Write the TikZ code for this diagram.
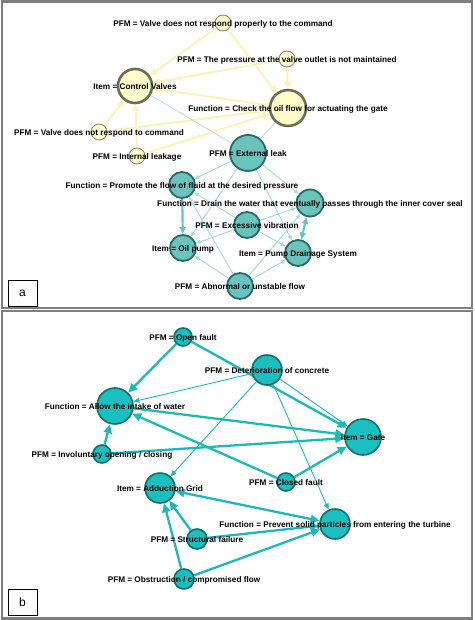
\documentclass[tikz,border=0pt]{standalone}
\usepackage{fontspec}
\setmainfont{Liberation Sans}
\usetikzlibrary{arrows.meta}
\pgfdeclarelayer{edges}
\pgfsetlayers{edges,main}
\definecolor{ylfill}{HTML}{FFFFCC}
\definecolor{yldraw}{HTML}{6E6E58}
\definecolor{yledge}{HTML}{F9F5B8}
\definecolor{tafill}{HTML}{6AC4BE}
\definecolor{tadraw}{HTML}{2C6A66}
\definecolor{taedge}{HTML}{A9DBD7}
\definecolor{bledge}{HTML}{BCDDE6}
\definecolor{tbfill}{HTML}{1BBFBF}
\definecolor{tbdraw}{HTML}{10706E}
\definecolor{tbedge}{HTML}{1CB9B9}
\definecolor{frame}{HTML}{7F7F7F}
\tikzset{
  ynode/.style={circle, draw=yldraw, fill=ylfill, inner sep=0pt, line width=2.6pt},
  ysmall/.style={circle, draw=yldraw!80, fill=ylfill, inner sep=0pt, line width=0.9pt, minimum size=16pt},
  anode/.style={circle, draw=tadraw, fill=tafill, inner sep=0pt, line width=1.8pt},
  bnode/.style={circle, draw=tbdraw, fill=tbfill, inner sep=0pt, line width=1.6pt},
  lab/.style={font=\bfseries\fontsize{8.2}{9}\selectfont, inner sep=0pt, yshift=-1pt},
  yedge/.style={draw=yledge, line width=2pt, >={Triangle[length=7pt,width=7pt]}, ->},
  bedge/.style={draw=bledge, line width=0.9pt},
  aedge/.style={draw=taedge, line width=1pt, >={Triangle[length=5pt,width=4pt]}, ->},
  athick/.style={draw=tafill, line width=2.2pt, >={Triangle[length=7pt,width=6pt]}, ->},
  cedge/.style={draw=tbedge, line width=0.9pt, >={Triangle[length=6pt,width=5pt]}, ->},
  cthick/.style={draw=tbedge, line width=2.3pt, >={Triangle[length=9pt,width=8pt]}, ->},
  panel/.style={draw=frame, line width=2.5pt},
  tagbox/.style={draw=black, line width=0.8pt, fill=white, minimum width=29pt, minimum height=26pt, font=\fontsize{12}{14}\selectfont}
}
\begin{document}
\begin{tikzpicture}[x=1pt, y=-1pt]
	\useasboundingbox (0,0) rectangle (474,620);
	% frames
	\draw[panel] (2,1.5) rectangle (472,308);
	\draw[panel] (2,311) rectangle (472,618.5);
	\node[tagbox] (taga) at (22.5,293) {a};
	\node[tagbox] (tagb) at (22.5,602) {b};

	% panel a: control valves
	\node[ysmall] (vp) at (223,23) {};
	\node[ysmall] (po) at (287,59) {};
	\node[ynode, minimum size=34pt] (cv) at (135,86) {};
	\node[ynode, minimum size=36pt] (cof) at (288,108) {};
	\node[ysmall] (vnr) at (99,132) {};
	\node[ysmall] (il) at (137,156) {};
	% panel a: oil pump
	\node[anode, minimum size=36pt] (el) at (248,153) {};
	\node[anode, minimum size=26pt] (pf) at (182,185) {};
	\node[anode, minimum size=27pt] (dw) at (310,203) {};
	\node[anode, minimum size=26pt] (ev) at (247,225) {};
	\node[anode, minimum size=26pt] (op) at (183,248) {};
	\node[anode, minimum size=26pt] (pds) at (298,253) {};
	\node[anode, minimum size=26pt] (auf) at (240,286) {};

	% panel b: gate
	\node[bnode, minimum size=18pt] (of) at (183,337) {};
	\node[bnode, minimum size=30pt] (dc) at (267,370) {};
	\node[bnode, minimum size=36pt] (ai) at (115,406) {};
	\node[bnode, minimum size=36pt] (gt) at (363,437) {};
	\node[bnode, minimum size=18pt] (ioc) at (102,454) {};
	\node[bnode, minimum size=18pt] (cf) at (286,482) {};
	\node[bnode, minimum size=30pt] (ag) at (160,488) {};
	\node[bnode, minimum size=30pt] (ps) at (335,524) {};
	\node[bnode, minimum size=20pt] (sf) at (197,539) {};
	\node[bnode, minimum size=20pt] (ocf) at (184,579) {};

	\begin{pgfonlayer}{edges}
		\draw[yedge] (vp) -- (cv);
		\draw[yedge] (vp) -- (cof);
		\draw[yedge] (po) -- (cv);
		\draw[yedge] (po) -- (cof);
		\draw[yedge] (cof) -- (cv);
		\draw[yedge] (vnr) -- (cv);
		\draw[yedge] (vnr) -- (cof);
		\draw[yedge] (il) -- (cv);
		\draw[yedge] (il) -- (cof);
		\draw[bedge] (cv) -- (el);
		\draw[bedge] (cof) -- (el);

		\draw[aedge] (el) -- (pf);
		\draw[aedge] (el) -- (dw);
		\draw[aedge] (el) -- (op);
		\draw[aedge] (el) -- (pds);
		\draw[aedge] (ev) -- (pf);
		\draw[aedge] (ev) -- (dw);
		\draw[aedge] (ev) -- (op);
		\draw[aedge] (ev) -- (pds);
		\draw[aedge] (auf) -- (pf);
		\draw[aedge] (auf) -- (dw);
		\draw[aedge] (auf) -- (op);
		\draw[aedge] (auf) -- (pds);
		\draw[athick] (pf) -- (op);
		\draw[athick, <->] (dw) -- (pds);

		\draw[cthick] (of) -- (ai);
		\draw[cthick] (of) -- (gt);
		\draw[cedge] (dc) -- (ai);
		\draw[cedge] (dc) -- (gt);
		\draw[cedge] (dc) -- (ag);
		\draw[cedge] (dc) -- (ps);
		\draw[cthick] (ai) -- (gt);
		\draw[cthick] (ioc) -- (ai);
		\draw[cthick] (ioc) -- (gt);
		\draw[cthick] (cf) -- (ai);
		\draw[cthick] (cf) -- (gt);
		\draw[cthick, <->] (ag) -- (ps);
		\draw[cthick] (sf) -- (ag);
		\draw[cthick] (sf) -- (ps);
		\draw[cthick] (ocf) -- (ag);
		\draw[cthick] (ocf) -- (ps);
	\end{pgfonlayer}

	% labels
	\node[lab] (vp-t) at (vp) {PFM = Valve does not respond properly to the command};
	\node[lab] (po-t) at (po) {PFM = The pressure at the valve outlet is not maintained};
	\node[lab] (cv-t) at (cv) {Item = Control Valves};
	\node[lab] (cof-t) at (cof) {Function = Check the oil flow for actuating the gate};
	\node[lab] (vnr-t) at (vnr) {PFM = Valve does not respond to command};
	\node[lab] (il-t) at (il) {PFM = Internal leakage};
	\node[lab] (el-t) at (el) {PFM = External leak};
	\node[lab] (pf-t) at (pf) {Function = Promote the flow of fluid at the desired pressure};
	\node[lab] (dw-t) at (dw) {Function = Drain the water that eventually passes through the inner cover seal};
	\node[lab] (ev-t) at (ev) {PFM = Excessive vibration};
	\node[lab] (op-t) at (op) {Item = Oil pump};
	\node[lab] (pds-t) at (pds) {Item = Pump Drainage System};
	\node[lab] (auf-t) at (auf) {PFM = Abnormal or unstable flow};

	\node[lab] (of-t) at (of) {PFM = Open fault};
	\node[lab] (dc-t) at (dc) {PFM = Deterioration of concrete};
	\node[lab] (ai-t) at (ai) {Function = Allow the intake of water};
	\node[lab] (gt-t) at (gt) {Item = Gate};
	\node[lab] (ioc-t) at (ioc) {PFM = Involuntary opening / closing};
	\node[lab] (cf-t) at (cf) {PFM = Closed fault};
	\node[lab] (ag-t) at (ag) {Item = Adduction Grid};
	\node[lab] (ps-t) at (ps) {Function = Prevent solid particles from entering the turbine};
	\node[lab] (sf-t) at (sf) {PFM = Structural failure};
	\node[lab] (ocf-t) at (ocf) {PFM = Obstruction / compromised flow};
\end{tikzpicture}
\end{document}
